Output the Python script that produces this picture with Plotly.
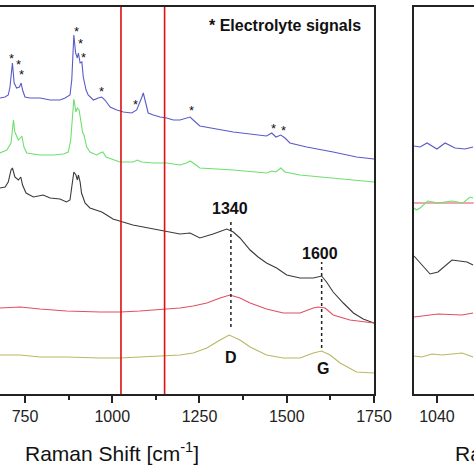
import plotly.graph_objects as go

# ---------------- data (Raman shift in cm^-1, intensity in a.u. with offsets) -------------
blue_x = [678, 693, 702, 707, 714, 719, 726, 734, 739, 743, 750, 764, 793, 822, 850, 865, 879, 884, 890, 895,
          900, 903, 908, 913, 917, 925, 931, 946, 960, 970, 979, 994, 1013, 1032, 1056, 1070, 1084, 1089, 1096,
          1103, 1118, 1137, 1156, 1175, 1194, 1213, 1223, 1232, 1251, 1347, 1442, 1457, 1469, 1483, 1495, 1509,
          1557, 1633, 1700, 1750]
blue_y = [296, 297, 299, 307, 331, 311, 306, 307, 311, 304, 297, 296, 296, 294, 294, 296, 299, 314, 359, 341,
          336, 341, 331, 332, 317, 304, 299, 294, 296, 297, 294, 287, 284, 282, 281, 284, 296, 301, 291,
          281, 279, 277, 276, 274, 274, 276, 277, 274, 268, 262, 258, 261, 257, 259, 256, 251,
          247, 242, 237, 235]

green_x = [678, 698, 710, 715, 717, 721, 731, 739, 741, 747, 755, 793, 831, 860, 874, 881, 887, 890, 896, 900,
           905, 910, 915, 919, 927, 936, 955, 965, 973, 982, 1003, 1022, 1060, 1072, 1084, 1118, 1156, 1194,
           1213, 1223, 1232, 1251, 1347, 1442, 1457, 1469, 1483, 1495, 1538, 1633, 1750]
green_y = [241, 244, 251, 272, 274, 262, 254, 257, 258, 247, 241, 239, 239, 240, 242, 254, 281, 295, 282, 286,
           284, 271, 262, 259, 247, 242, 239, 241, 242, 237, 234, 232, 232, 234, 232, 231, 231, 229,
           231, 233, 231, 226, 224, 221, 223, 222, 226, 222, 219, 216, 212]

black_x = [678, 693, 702, 710, 714, 721, 731, 738, 743, 753, 774, 802, 822, 850, 869, 879, 884, 890, 896, 900,
           903, 908, 912, 922, 936, 955, 970, 984, 1002, 1059, 1117, 1148, 1194, 1223, 1251, 1289, 1328, 1347,
           1366, 1395, 1418, 1442, 1471, 1500, 1538, 1576, 1600, 1614, 1633, 1662, 1691, 1719, 1750]
black_y = [206, 207, 212, 224, 226, 217, 214, 217, 209, 201, 197, 199, 196, 195, 192, 194, 207, 222, 219, 214,
           219, 212, 201, 191, 186, 184, 182, 179, 175, 169, 165, 163, 160, 161, 156, 160, 165, 162,
           156, 144, 137, 131, 126, 119, 116, 116, 118, 112, 102, 91, 81, 75, 71]

red_x = [678, 736, 793, 869, 965, 1023, 1079, 1148, 1194, 1232, 1271, 1309, 1337, 1366, 1395, 1442, 1490, 1538,
         1576, 1590, 1610, 1633, 1681, 1750]
red_y = [86, 87, 85, 83, 82, 82, 83, 85, 86, 88, 91, 96, 99, 96, 91, 85, 81, 81, 86, 87, 86, 79, 74, 71]

olive_x = [678, 736, 793, 869, 965, 1023, 1079, 1148, 1194, 1232, 1271, 1309, 1335, 1366, 1395, 1442, 1490,
           1538, 1576, 1600, 1624, 1653, 1700, 1750]
olive_y = [39, 39, 37, 37, 36, 36, 37, 38, 39, 41, 46, 54, 59, 54, 47, 39, 36, 36, 41, 43, 39, 31, 22, 21]

# zoomed panel (1025 - 1150 cm^-1 region)
z_blue_x = [1025, 1029, 1033.5, 1037, 1040, 1045.3, 1051.8, 1058.3, 1063.6]
z_blue_y = [248, 247, 251, 248, 245, 251, 246, 245, 247]
z_green_x = [1025, 1026.5, 1029, 1034, 1040.7, 1049.8, 1057, 1061.6, 1063.6]
z_green_y = [186, 184, 186, 193, 191, 193, 191, 197, 196]
z_ref_x = [1025, 1064]
z_ref_y = [191, 191]
z_black_x = [1025, 1030.2, 1035.5, 1040.7, 1049.8, 1059.6, 1063.6]
z_black_y = [138, 129, 120, 122, 134, 132, 129]
z_red_x = [1025, 1040.7, 1056.4, 1063.6]
z_red_y = [77, 80, 79, 81]
z_olive_x = [1025, 1030, 1036.8, 1043.3, 1056.4, 1063.6]
z_olive_y = [38, 37, 40, 39, 41, 37]

star_x = [710, 730, 741, 899, 908, 919, 968, 1068, 1226, 1461, 1492]
star_y = [340, 334, 324, 367, 355, 341, 307, 294, 288, 270, 268]

window_lines = [1025, 1150]
d_band, g_band = 1340, 1600

C_BLUE = "#5a5ac8"
C_GREEN = "#6ee06e"
C_BLACK = "#3a3a3a"
C_RED = "#e05060"
C_OLIVE = "#b8b866"

FONT = "Arial, Liberation Sans, sans-serif"

fig = go.Figure()

def add(x, y, c, xa="x", ya="y"):
    fig.add_trace(go.Scatter(x=x, y=y, mode="lines", line=dict(color=c, width=1.1),
                             xaxis=xa, yaxis=ya, showlegend=False, hoverinfo="skip"))

add(blue_x, blue_y, C_BLUE)
add(green_x, green_y, C_GREEN)
add(black_x, black_y, C_BLACK)
add(red_x, red_y, C_RED)
add(olive_x, olive_y, C_OLIVE)

add(z_blue_x, z_blue_y, C_BLUE, "x2", "y2")
add(z_ref_x, z_ref_y, C_RED, "x2", "y2")
add(z_green_x, z_green_y, C_GREEN, "x2", "y2")
add(z_black_x, z_black_y, C_BLACK, "x2", "y2")
add(z_red_x, z_red_y, C_RED, "x2", "y2")
add(z_olive_x, z_olive_y, C_OLIVE, "x2", "y2")

W = 474
left_end = 374 / W
right_start = 414 / W

shapes = []
for xv in window_lines:
    shapes.append(dict(type="line", xref="x", yref="y domain", x0=xv, x1=xv, y0=0, y1=1,
                       line=dict(color="#dd1010", width=1.6)))
shapes.append(dict(type="line", xref="x", yref="y", x0=d_band, x1=d_band, y0=67, y1=172,
                   line=dict(color="#222", width=1.5, dash="dot")))
shapes.append(dict(type="line", xref="x", yref="y", x0=g_band, x1=g_band, y0=46, y1=132,
                   line=dict(color="#222", width=1.5, dash="dot")))

ann = []
for sx, sy in zip(star_x, star_y):
    ann.append(dict(x=sx, y=sy, xref="x", yref="y", text="*", showarrow=False,
                    font=dict(family=FONT, size=13, color="#111"), yshift=-4))
ann.append(dict(x=1337, y=186, xref="x", yref="y", text="<b>1340</b>", showarrow=False,
                font=dict(family=FONT, size=16, color="#111")))
ann.append(dict(x=1595, y=141, xref="x", yref="y", text="<b>1600</b>", showarrow=False,
                font=dict(family=FONT, size=16, color="#111")))
ann.append(dict(x=1340, y=37, xref="x", yref="y", text="<b>D</b>", showarrow=False,
                font=dict(family=FONT, size=16, color="#111")))
ann.append(dict(x=1603, y=26, xref="x", yref="y", text="<b>G</b>", showarrow=False,
                font=dict(family=FONT, size=16, color="#111")))
ann.append(dict(x=1496, y=369, xref="x", yref="y", text="<b>* Electrolyte signals</b>", showarrow=False,
                font=dict(family=FONT, size=16, color="#111")))

title_y = (394 - 452) / 387
ann.append(dict(x=112 / W, y=title_y, xref="paper", yref="paper", yanchor="middle", xanchor="center",
                text="Raman Shift [cm<sup>-1</sup>]", showarrow=False,
                font=dict(family=FONT, size=21, color="#111")))
# second panel title, cut off by the right edge of the picture
ann.append(dict(x=453 / W, y=title_y, xref="paper", yref="paper", yanchor="middle", xanchor="left",
                text="Raman Shift [cm<sup>-1</sup>]", showarrow=False, width=19, align="left",
                font=dict(family=FONT, size=21, color="#111")))

axis_common = dict(showline=True, linecolor="#222", linewidth=2, mirror=True, showgrid=False,
                   zeroline=False, ticks="outside", ticklen=7, tickwidth=1.5, tickcolor="#222",
                   automargin=False,
                   tickfont=dict(family=FONT, size=16, color="#222"))

fig.update_layout(
    width=W, height=474,
    margin=dict(l=0, r=0, t=7, b=80, autoexpand=False),
    paper_bgcolor="white", plot_bgcolor="white",
    xaxis=dict(domain=[0, left_end], range=[678.4, 1750], tickvals=[750, 1000, 1250, 1500, 1750],
               minor=dict(ticks="outside", ticklen=4, tickwidth=1.5, tickcolor="#222",
                          tickvals=[875, 1125, 1375, 1625]),
               anchor="y", **axis_common),
    yaxis=dict(domain=[0, 1], range=[0, 387], side="right", showline=True, linecolor="#222", linewidth=2,
               showticklabels=False, ticks="", showgrid=False, zeroline=False, anchor="x",
               automargin=False),
    xaxis2=dict(domain=[right_start, 1], range=[1025, 1064.2], tickvals=[1040, 1080, 1120],
                anchor="y2", **axis_common),
    yaxis2=dict(domain=[0, 1], range=[0, 387], side="left", showline=True, linecolor="#222", linewidth=2,
                showticklabels=False, ticks="", showgrid=False, zeroline=False, anchor="x2",
                automargin=False),
    shapes=shapes,
    annotations=ann,
)

fig.write_html("out.html")
